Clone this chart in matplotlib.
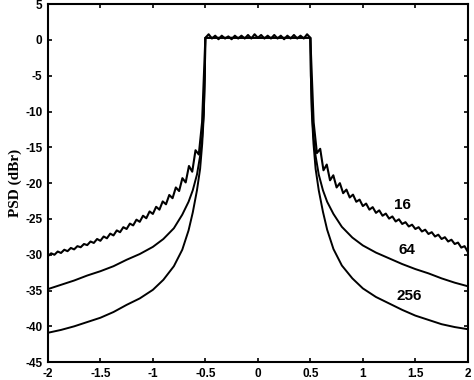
'''
PSD of OFDM signals for 16, 64 and 256 subcarriers
'''

import numpy as np
import matplotlib
matplotlib.use('Agg')
import matplotlib.pyplot as plt

plt.rcParams['axes.unicode_minus'] = False

# Data
# 16 carriers: sampled every 1/32 from -2 to 2
freq_16 = np.linspace(-2.0, 2.0, 129)
psd_16_left = [
    -30.2, -29.8, -30.0, -29.55, -29.75, -29.3, -29.5, -29.05,
    -29.25, -28.8, -28.95, -28.5, -28.65, -28.15, -28.35, -27.8,
    -28.05, -27.45, -27.7, -27.05, -27.3, -26.6, -26.85, -26.15,
    -26.4, -25.65, -25.9, -25.1, -25.4, -24.55, -24.9, -23.95,
    -24.3, -23.3, -23.7, -22.55, -22.95, -21.65, -22.1, -20.6,
    -21.1, -19.3, -19.9, -17.6, -18.4, -15.4, -16.0, -11.5,
]
psd_16_pass = [
    0.3, 0.8, 0.2, 0.6, 0.1, 0.6, 0.2, 0.5, 0.1, 0.6, 0.2,
    0.6, 0.2, 0.7, 0.2, 0.8, 0.3, 0.7, 0.2, 0.6, 0.2, 0.7,
    0.2, 0.6, 0.1, 0.6, 0.2, 0.7, 0.2, 0.6, 0.2, 0.8, 0.3,
]
psd_16_right = [
    -11.5, -15.8, -15.2, -18.2, -17.4, -19.6, -18.9, -20.6,
    -20.0, -21.4, -20.9, -22.0, -21.6, -22.6, -22.3, -23.2,
    -22.85, -23.7, -23.35, -24.15, -23.8, -24.55, -24.25, -24.95,
    -24.65, -25.35, -25.05, -25.7, -25.45, -26.05, -25.8, -26.4,
    -26.15, -26.75, -26.5, -27.1, -26.85, -27.45, -27.2, -27.8,
    -27.55, -28.15, -27.9, -28.5, -28.3, -29.0, -28.8, -29.6,
]
psd_16 = psd_16_left + psd_16_pass + psd_16_right

# 64 and 256 carriers
freq_left = [-2.0, -1.875, -1.75, -1.625, -1.5, -1.375, -1.25, -1.125, -1.0,
             -0.9, -0.8, -0.72, -0.66, -0.62, -0.58, -0.55, -0.53, -0.515, -0.505]
freq_pass = [-0.5, 0.5]
freq_right = [0.505, 0.515, 0.53, 0.55, 0.58, 0.62, 0.66, 0.72, 0.8, 0.9,
              1.0, 1.125, 1.25, 1.375, 1.5, 1.625, 1.75, 1.875, 2.0]
freq_other = freq_left + freq_pass + freq_right

psd_64 = [-34.8, -34.2, -33.6, -32.9, -32.3, -31.6, -30.7, -29.9, -28.9,
          -27.8, -26.3, -24.4, -22.6, -21.0, -18.8, -16.2, -13.5, -10.0, -5.0,
          0.3, 0.3,
          -5.0, -10.0, -13.5, -16.2, -18.8, -21.0, -22.6, -24.3, -26.1, -27.6,
          -28.7, -29.7, -30.5, -31.3, -32.0, -32.6, -33.3, -33.9, -34.4]
psd_256 = [-40.9, -40.5, -40.0, -39.4, -38.8, -38.0, -37.0, -36.1, -34.9,
           -33.5, -31.6, -29.3, -26.6, -24.1, -21.0, -18.0, -14.5, -10.5, -5.0,
           0.3, 0.3,
           -5.0, -10.5, -14.5, -18.0, -21.0, -24.0, -26.5, -29.2, -31.5, -33.3,
           -34.7, -35.9, -36.8, -37.7, -38.5, -39.1, -39.7, -40.1, -40.4]

curve_labels = ['16', '64', '256']
label_x = [1.38, 1.42, 1.44]
label_y = [-23.0, -29.3, -35.8]

x_ticks = [-2, -1.5, -1, -0.5, 0, 0.5, 1, 1.5, 2]
x_tick_labels = ['-2', '-1.5', '-1', '-0.5', '0', '0.5', '1', '1.5', '2']
y_ticks = list(range(-45, 6, 5))

# Plot
fig = plt.figure(figsize=(4.74, 3.80), dpi=100)
ax = fig.add_axes([0.101, 0.047, 0.886, 0.942])

ax.plot(freq_other, psd_256, color='black', lw=1.4)
ax.plot(freq_other, psd_64, color='black', lw=1.4)
ax.plot(freq_16, psd_16, color='black', lw=1.5)

for txt, lx, ly in zip(curve_labels, label_x, label_y):
    ax.text(lx, ly, txt, ha='center', va='center', fontsize=11,
            fontweight='bold', family='Liberation Sans')

ax.set_xlim(-2, 2)
ax.set_ylim(-45, 5)
ax.set_xticks(x_ticks)
ax.set_xticklabels(x_tick_labels)
ax.set_yticks(y_ticks)
ax.set_yticklabels([str(v) for v in y_ticks])
ax.tick_params(direction='in', top=True, right=True, length=3, width=1.2,
               labelsize=8.5, pad=4)
for lab in ax.get_xticklabels() + ax.get_yticklabels():
    lab.set_fontweight('bold')
    lab.set_family('Liberation Sans')
for sp in ax.spines.values():
    sp.set_linewidth(1.5)

ax.set_ylabel('PSD (dBr)', family='Liberation Serif', fontsize=11,
              fontweight='bold', labelpad=2)

fig.savefig('out.png', dpi=100)
